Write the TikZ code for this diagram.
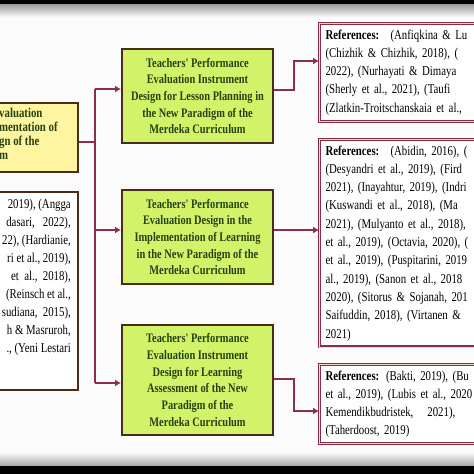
\documentclass[tikz,border=0pt]{standalone}
\usepackage{fontspec}
\setmainfont{Liberation Serif}
\newfontfamily\narrowfont[FakeStretch=0.8]{Liberation Serif}
\usepackage{xcolor}
\usetikzlibrary{arrows.meta}
\usetikzlibrary{positioning}

\definecolor{linkred}{RGB}{140,45,75}
\definecolor{stagegreen}{RGB}{210,243,105}
\definecolor{goalyellow}{RGB}{255,244,160}
\definecolor{stagetext}{RGB}{38,66,18}
\definecolor{edgebrown}{RGB}{72,45,25}
\definecolor{refred}{RGB}{135,45,65}

\tikzset{
  stage/.style={draw=edgebrown, line width=2pt, fill=stagegreen, minimum width=151pt,
    text=stagetext, align=center, inner sep=0pt,
    font=\narrowfont\bfseries\fontsize{13}{16.7}\selectfont},
  refbox/.style={draw=refred, double=pink!70, double distance=0.8pt, line width=1.1pt,
    fill=white, anchor=north west, text width=200pt, align=left, inner sep=6pt,
    font=\narrowfont\fontsize{13.5}{18.3}\selectfont},
  sidebox/.style={draw=edgebrown, line width=2pt, inner sep=0pt},
  link/.style={draw=linkred, line width=1.3pt, arrows={-Latex[width=7pt, length=6pt]}},
}

\begin{document}
\begin{tikzpicture}[x=1pt,y=-1pt]
\useasboundingbox (0,0) rectangle (474,474);
\fill[white!97!gray] (0,0) rectangle (474,474);
\fill[black] (0,0) rectangle (474,4);
\shade[top color=gray!80, bottom color=white!97!gray] (0,4) rectangle (474,17);
\shade[top color=white!97!gray, bottom color=gray!70] (0,452) rectangle (474,466);
\fill[black] (0,466) rectangle (474,474);

\node[sidebox, fill=goalyellow, minimum width=100pt, minimum height=69pt] (goal) at (28,137.5) {};
\node[anchor=north west, align=left, inner sep=0pt, text=stagetext,
  font=\narrowfont\bfseries\fontsize{13.5}{14}\selectfont] (goaltext) at (-1,108)
  {valuation\\ mentation of\\ gn of the\\ m};
\node[sidebox, fill=white, minimum width=100pt, minimum height=198pt] (basis) at (28,291) {};
\node[anchor=north east, align=right, inner sep=0pt,
  font=\narrowfont\fontsize{13.5}{18}\selectfont] (basistext) at (71,199)
  {2019), (Angga\\ dasari, \ \ 2022),\\ 22), (Hardianie,\\ ri et al., 2019),\\ et \ al., \ 2018),\\
   (Reinsch et al.,\\ sudiana, \ 2015),\\ h \& Masruroh,\\ ., (Yeni Lestari};

\node[stage, minimum height=94pt] (plan) at (197.5,96)
  {Teachers' Performance\\ Evaluation Instrument\\ Design for Lesson Planning in\\ the New Paradigm of the\\ Merdeka Curriculum};
\node[stage, minimum height=94pt] (teach) at (197.5,237)
  {Teachers' Performance\\ Evaluation Design in the\\ Implementation of Learning\\ in the New Paradigm of the\\ Merdeka Curriculum};
\node[stage, minimum height=110pt] (assess) at (197.5,380)
  {Teachers' Performance\\ Evaluation Instrument\\ Design for Learning\\ Assessment of the New\\ Paradigm of the\\ Merdeka Curriculum};

\node[refbox] (refplan) at (319,23)
  {\textbf{References:} \ (Anfiqkina \& Lu\\ (Chizhik \& Chizhik, 2018), (\\ 2022), (Nurhayati \& Dimaya\\
   (Sherly et al., 2021), (Taufi\\ (Zlatkin-Troitschanskaia et al., };
\node[refbox] (refteach) at (319,139)
  {\textbf{References:} \ (Abidin, 2016), (\\ (Desyandri et al., 2019), (Fird\\ 2021), (Inayahtur, 2019), (Indri\\
   (Kuswandi et al., 2018), (Ma\\ 2021), (Mulyanto et al., 2018), \\ et al., 2019), (Octavia, 2020), (\\
   et al., 2019), (Puspitarini, 2019\\ al., 2019), (Sanon et al., 2018\\ 2020), (Sitorus \& Sojanah, 201\\
   Saifuddin, 2018), (Virtanen \&\\ 2021)};
\node[refbox] (refassess) at (319,364)
  {\textbf{References:} (Bakti, 2019), (Bu\\ et al., 2019), (Lubis et al., 2020\\
   Kemendikbudristek,\hspace{14pt}2021),\\ (Taherdoost, 2019)};

\coordinate (split) at (95,142);
\draw[draw=linkred, line width=1.3pt] (goal.east |- split) -- (split);
\draw[draw=linkred, line width=1.3pt] (95,89) -- (95,383);
\draw[link] (95,89) -- (plan.west |- 0,89);
\draw[link] (95,230) -- (teach.west |- 0,230);
\draw[link] (95,383) -- (assess.west |- 0,383);

\draw[link] (plan.east |- 0,90) -- ++(20,0) |- (refplan.west |- 0,61);
\draw[link] (teach.east |- 0,230) -- (refteach.west |- 0,230);
\draw[link] (assess.east |- 0,379) -- ++(20,0) |- (refassess.west |- 0,411);
\end{tikzpicture}
\end{document}
